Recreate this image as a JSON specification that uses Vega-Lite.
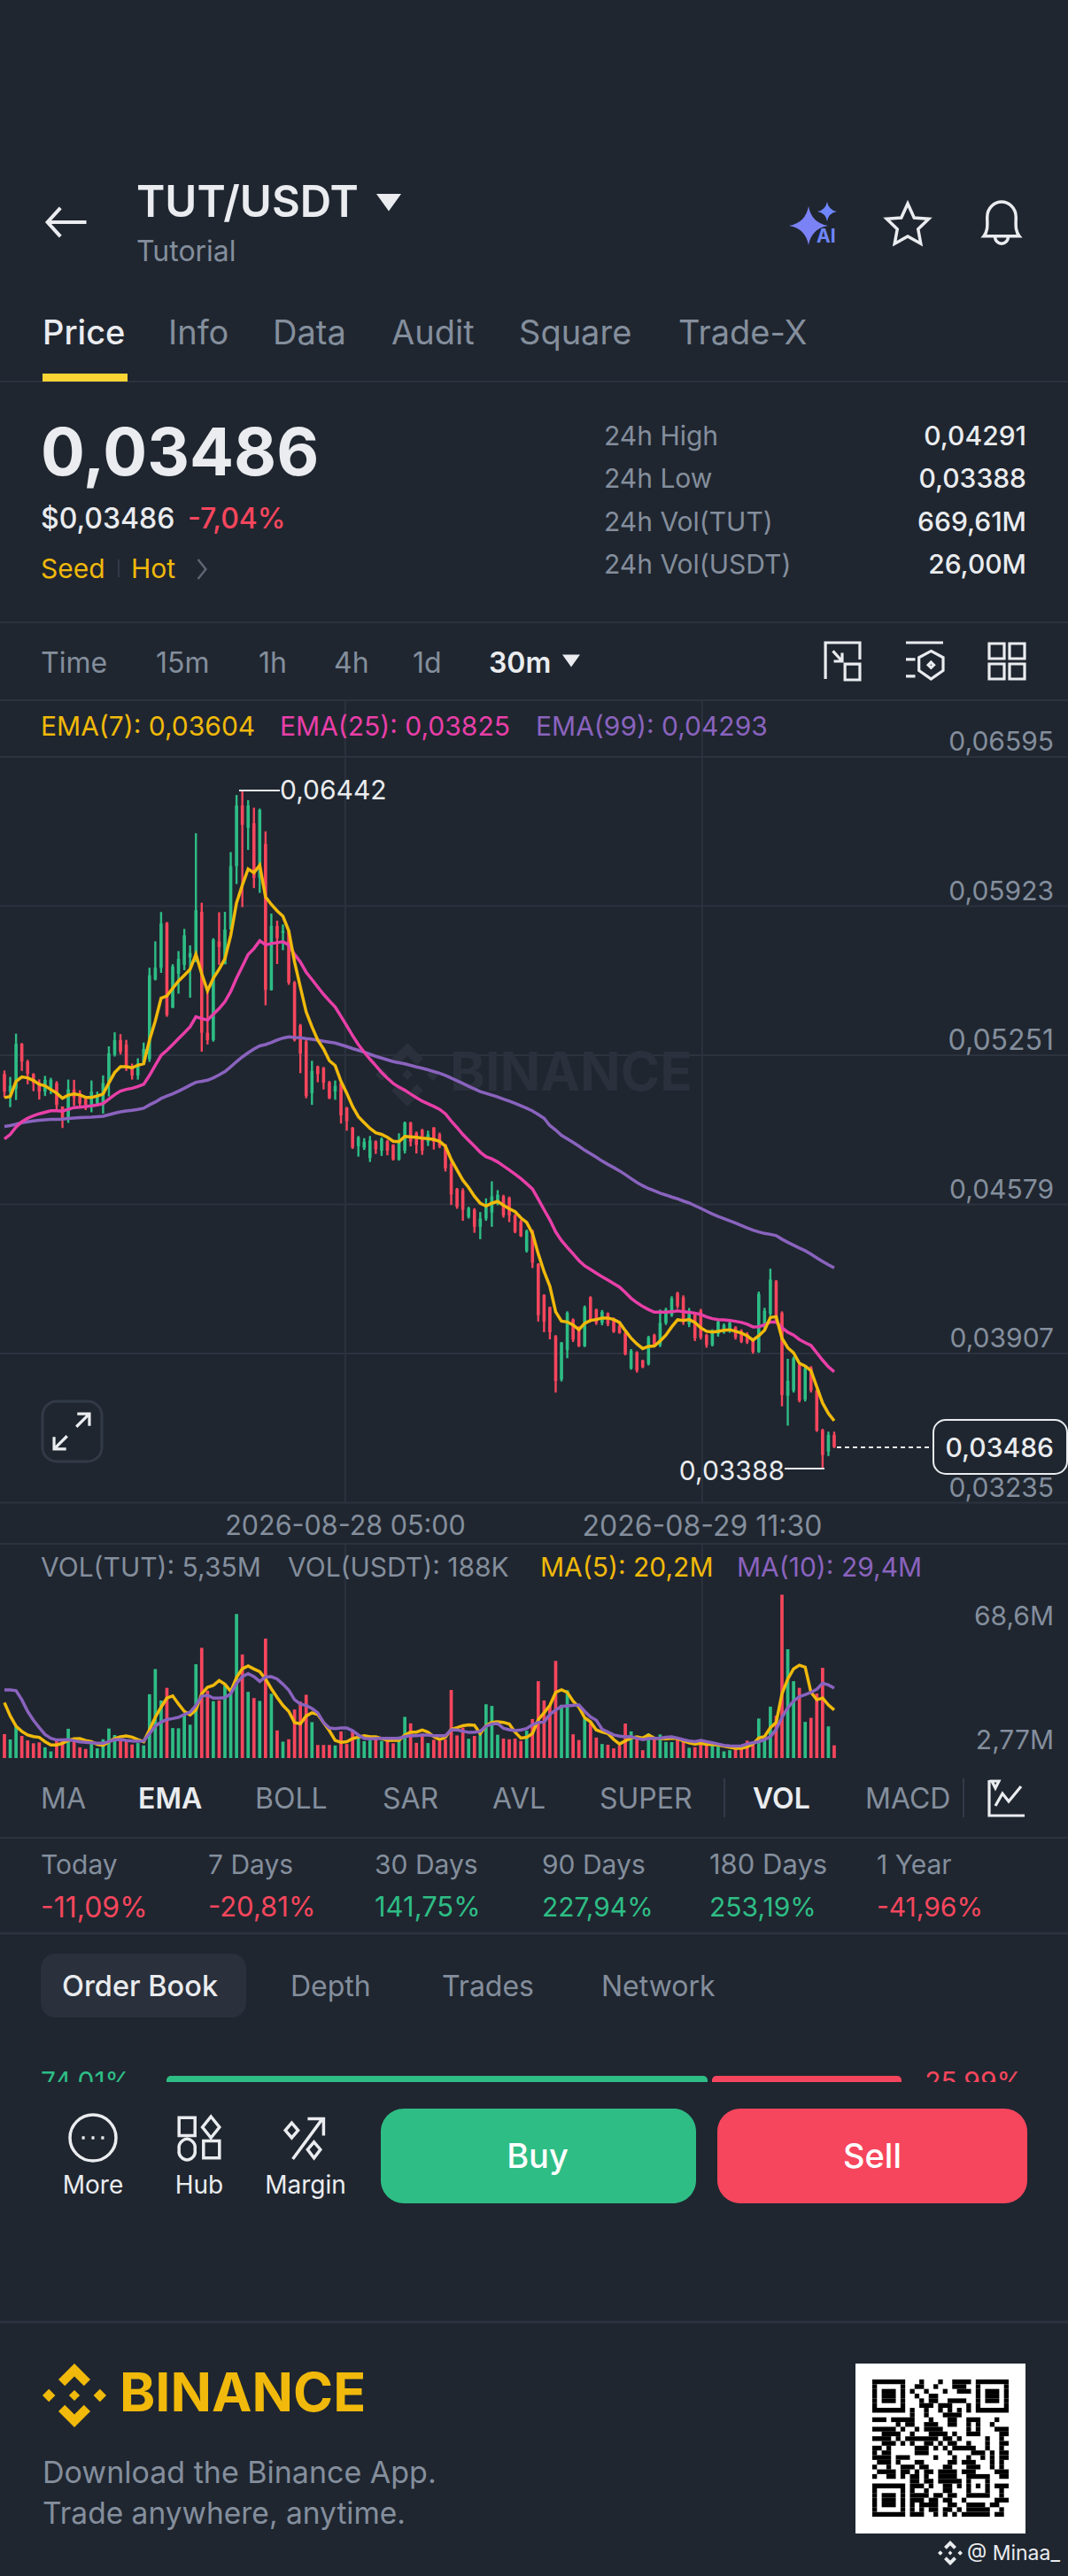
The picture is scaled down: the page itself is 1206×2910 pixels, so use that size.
{"$schema":"https://vega.github.io/schema/vega-lite/v6.json","width":1206,"height":2910,"autosize":{"type":"none"},"padding":0,"background":"#1F2630","config":{"view":{"stroke":null},"text":{"font":"Inter","align":"left","baseline":"middle","fontSize":30,"color":"#848E9C","dy":2}},
"datasets":{"k":[
{"i":0,"o":0.05166,"h":0.05182,"l":0.0506,"c":0.05087,"v":10.0,"e7":0.0506,"e25":0.04874,"e99":0.0493,"m5":23.3,"m10":28.6},
{"i":1,"o":0.05087,"h":0.05153,"l":0.05017,"c":0.05113,"v":7.8,"e7":0.05065,"e25":0.04894,"e99":0.04934,"m5":17.7,"m10":28.6},
{"i":2,"o":0.051,"h":0.05348,"l":0.05049,"c":0.05302,"v":13.4,"e7":0.05133,"e25":0.04927,"e99":0.0494,"m5":13.4,"m10":28.3},
{"i":3,"o":0.05302,"h":0.05306,"l":0.0518,"c":0.05222,"v":9.3,"e7":0.05153,"e25":0.04951,"e99":0.04947,"m5":11.2,"m10":24.5},
{"i":4,"o":0.05222,"h":0.0523,"l":0.0512,"c":0.05166,"v":7.4,"e7":0.05149,"e25":0.04967,"e99":0.04951,"m5":9.7,"m10":19.6},
{"i":5,"o":0.05166,"h":0.0517,"l":0.05089,"c":0.05126,"v":6.2,"e7":0.05137,"e25":0.04978,"e99":0.04955,"m5":9.0,"m10":15.9},
{"i":6,"o":0.05126,"h":0.05142,"l":0.05051,"c":0.05087,"v":6.6,"e7":0.0512,"e25":0.04987,"e99":0.04958,"m5":8.7,"m10":12.8},
{"i":7,"o":0.05087,"h":0.05158,"l":0.05067,"c":0.0514,"v":4.5,"e7":0.05113,"e25":0.04994,"e99":0.0496,"m5":6.9,"m10":9.9},
{"i":8,"o":0.051,"h":0.05149,"l":0.05076,"c":0.0514,"v":2.8,"e7":0.05096,"e25":0.05001,"e99":0.04962,"m5":5.5,"m10":8.3},
{"i":9,"o":0.05126,"h":0.05134,"l":0.05007,"c":0.05027,"v":7.2,"e7":0.0508,"e25":0.05001,"e99":0.04962,"m5":5.5,"m10":7.6},
{"i":10,"o":0.0502,"h":0.0502,"l":0.04923,"c":0.0496,"v":8.2,"e7":0.05057,"e25":0.04999,"e99":0.04963,"m5":6.2,"m10":7.6},
{"i":11,"o":0.0496,"h":0.05141,"l":0.04946,"c":0.05097,"v":12.3,"e7":0.05071,"e25":0.05007,"e99":0.04966,"m5":7.4,"m10":7.7},
{"i":12,"o":0.05097,"h":0.0514,"l":0.05023,"c":0.0506,"v":7.2,"e7":0.05076,"e25":0.05015,"e99":0.04968,"m5":8.1,"m10":7.3},
{"i":13,"o":0.0508,"h":0.05093,"l":0.0502,"c":0.05033,"v":4.5,"e7":0.05072,"e25":0.05017,"e99":0.0497,"m5":8.2,"m10":6.8},
{"i":14,"o":0.05053,"h":0.0506,"l":0.05004,"c":0.05027,"v":3.8,"e7":0.05061,"e25":0.0502,"e99":0.04971,"m5":7.4,"m10":6.6},
{"i":15,"o":0.05027,"h":0.05137,"l":0.04994,"c":0.05087,"v":5.9,"e7":0.05061,"e25":0.05023,"e99":0.04972,"m5":6.9,"m10":6.4},
{"i":16,"o":0.05033,"h":0.05087,"l":0.05027,"c":0.05073,"v":4.1,"e7":0.05067,"e25":0.05027,"e99":0.04974,"m5":5.7,"m10":6.2},
{"i":17,"o":0.05027,"h":0.0516,"l":0.04988,"c":0.05126,"v":7.9,"e7":0.05076,"e25":0.05033,"e99":0.04976,"m5":5.3,"m10":6.2},
{"i":18,"o":0.05126,"h":0.05291,"l":0.05065,"c":0.05259,"v":12.4,"e7":0.05126,"e25":0.05053,"e99":0.04983,"m5":6.8,"m10":6.9},
{"i":19,"o":0.05253,"h":0.05354,"l":0.05245,"c":0.05319,"v":9.7,"e7":0.05173,"e25":0.05073,"e99":0.0499,"m5":8.2,"m10":7.7},
{"i":20,"o":0.05319,"h":0.05346,"l":0.05254,"c":0.05266,"v":8.1,"e7":0.05199,"e25":0.05089,"e99":0.04996,"m5":8.9,"m10":7.8},
{"i":21,"o":0.05299,"h":0.0532,"l":0.0518,"c":0.05193,"v":7.2,"e7":0.05199,"e25":0.05097,"e99":0.05,"m5":9.3,"m10":7.4},
{"i":22,"o":0.05193,"h":0.05213,"l":0.05141,"c":0.0516,"v":5.7,"e7":0.05194,"e25":0.05102,"e99":0.05003,"m5":8.8,"m10":7.2},
{"i":23,"o":0.0516,"h":0.05237,"l":0.05141,"c":0.05213,"v":6.3,"e7":0.05206,"e25":0.0511,"e99":0.05007,"m5":7.8,"m10":7.1},
{"i":24,"o":0.05213,"h":0.05308,"l":0.0521,"c":0.05279,"v":5.3,"e7":0.05213,"e25":0.0512,"e99":0.05012,"m5":6.9,"m10":7.2},
{"i":25,"o":0.05233,"h":0.05645,"l":0.05221,"c":0.05611,"v":26.8,"e7":0.05319,"e25":0.0516,"e99":0.05027,"m5":11.9,"m10":10.3},
{"i":26,"o":0.05592,"h":0.05764,"l":0.05588,"c":0.05645,"v":37.4,"e7":0.05405,"e25":0.05206,"e99":0.0504,"m5":17.1,"m10":13.4},
{"i":27,"o":0.05645,"h":0.05896,"l":0.05622,"c":0.05844,"v":24.2,"e7":0.05508,"e25":0.0525,"e99":0.05056,"m5":21.4,"m10":15.1},
{"i":28,"o":0.05847,"h":0.05851,"l":0.05424,"c":0.05432,"v":29.5,"e7":0.05518,"e25":0.05273,"e99":0.05067,"m5":25.2,"m10":16.2},
{"i":29,"o":0.05465,"h":0.05661,"l":0.05463,"c":0.05651,"v":12.6,"e7":0.05552,"e25":0.05299,"e99":0.05077,"m5":26.1,"m10":16.6},
{"i":30,"o":0.05618,"h":0.0572,"l":0.05528,"c":0.05685,"v":12.5,"e7":0.05585,"e25":0.05326,"e99":0.05089,"m5":22.7,"m10":17.1},
{"i":31,"o":0.05658,"h":0.0582,"l":0.05634,"c":0.05791,"v":18.3,"e7":0.05611,"e25":0.05352,"e99":0.05102,"m5":19.6,"m10":18.3},
{"i":32,"o":0.05691,"h":0.05746,"l":0.0551,"c":0.05711,"v":14.0,"e7":0.05638,"e25":0.05379,"e99":0.05116,"m5":18.1,"m10":19.3},
{"i":33,"o":0.05671,"h":0.06251,"l":0.05671,"c":0.05904,"v":39.4,"e7":0.05705,"e25":0.05424,"e99":0.05129,"m5":20.2,"m10":22.1},
{"i":34,"o":0.05897,"h":0.05938,"l":0.05267,"c":0.05352,"v":46.3,"e7":0.05618,"e25":0.05416,"e99":0.05133,"m5":27.0,"m10":26.0},
{"i":35,"o":0.05352,"h":0.05552,"l":0.05299,"c":0.05319,"v":28.3,"e7":0.05541,"e25":0.05409,"e99":0.05138,"m5":29.7,"m10":26.4},
{"i":36,"o":0.05319,"h":0.05778,"l":0.05312,"c":0.05771,"v":23.9,"e7":0.05598,"e25":0.05435,"e99":0.05149,"m5":30.5,"m10":25.2},
{"i":37,"o":0.05764,"h":0.05895,"l":0.05658,"c":0.05738,"v":24.2,"e7":0.05638,"e25":0.05461,"e99":0.05162,"m5":32.6,"m10":25.2},
{"i":38,"o":0.05661,"h":0.05897,"l":0.05661,"c":0.05817,"v":30.7,"e7":0.05685,"e25":0.05492,"e99":0.05177,"m5":31.0,"m10":25.4},
{"i":39,"o":0.05817,"h":0.06166,"l":0.05817,"c":0.06103,"v":27.0,"e7":0.05791,"e25":0.05538,"e99":0.05199,"m5":28.0,"m10":27.0},
{"i":40,"o":0.06103,"h":0.06423,"l":0.06022,"c":0.06376,"v":60.5,"e7":0.05937,"e25":0.05598,"e99":0.05222,"m5":33.8,"m10":31.4},
{"i":41,"o":0.06376,"h":0.06442,"l":0.05918,"c":0.06289,"v":43.5,"e7":0.06017,"e25":0.05651,"e99":0.05243,"m5":37.5,"m10":34.2},
{"i":42,"o":0.06276,"h":0.064,"l":0.06176,"c":0.06376,"v":27.8,"e7":0.0609,"e25":0.05705,"e99":0.05262,"m5":38.7,"m10":35.4},
{"i":43,"o":0.06296,"h":0.06366,"l":0.06004,"c":0.0605,"v":25.2,"e7":0.06073,"e25":0.05731,"e99":0.05279,"m5":37.4,"m10":34.2},
{"i":44,"o":0.0605,"h":0.06362,"l":0.05982,"c":0.06356,"v":24.0,"e7":0.06107,"e25":0.05767,"e99":0.05293,"m5":36.3,"m10":32.2},
{"i":45,"o":0.06203,"h":0.06259,"l":0.05476,"c":0.05545,"v":50.2,"e7":0.05964,"e25":0.05748,"e99":0.05299,"m5":33.2,"m10":34.1},
{"i":46,"o":0.05545,"h":0.05889,"l":0.05542,"c":0.05833,"v":27.0,"e7":0.0593,"e25":0.05754,"e99":0.05308,"m5":29.1,"m10":34.2},
{"i":47,"o":0.05833,"h":0.05857,"l":0.05662,"c":0.05778,"v":11.6,"e7":0.05901,"e25":0.05758,"e99":0.05319,"m5":25.5,"m10":33.2},
{"i":48,"o":0.05802,"h":0.0584,"l":0.05724,"c":0.05811,"v":6.9,"e7":0.05877,"e25":0.05762,"e99":0.05328,"m5":22.1,"m10":31.0},
{"i":49,"o":0.05811,"h":0.05811,"l":0.05568,"c":0.05578,"v":7.9,"e7":0.05811,"e25":0.05748,"e99":0.05334,"m5":19.6,"m10":28.5},
{"i":50,"o":0.05578,"h":0.05585,"l":0.05313,"c":0.05319,"v":20.4,"e7":0.05671,"e25":0.05705,"e99":0.05331,"m5":14.9,"m10":24.5},
{"i":51,"o":0.05386,"h":0.05392,"l":0.0517,"c":0.05259,"v":23.7,"e7":0.05558,"e25":0.05671,"e99":0.0533,"m5":14.4,"m10":22.7},
{"i":52,"o":0.05313,"h":0.05319,"l":0.05057,"c":0.05067,"v":26.6,"e7":0.05446,"e25":0.05625,"e99":0.05326,"m5":17.7,"m10":22.1},
{"i":53,"o":0.0508,"h":0.05226,"l":0.05027,"c":0.0518,"v":15.1,"e7":0.05379,"e25":0.05592,"e99":0.05323,"m5":19.0,"m10":20.8},
{"i":54,"o":0.052,"h":0.05204,"l":0.05129,"c":0.05166,"v":5.5,"e7":0.05319,"e25":0.05558,"e99":0.05319,"m5":18.3,"m10":19.0},
{"i":55,"o":0.05193,"h":0.05198,"l":0.05097,"c":0.05127,"v":5.5,"e7":0.05279,"e25":0.05525,"e99":0.05314,"m5":14.9,"m10":14.9},
{"i":56,"o":0.05129,"h":0.05135,"l":0.05053,"c":0.05057,"v":5.5,"e7":0.05226,"e25":0.05496,"e99":0.0531,"m5":11.5,"m10":12.6},
{"i":57,"o":0.05087,"h":0.05137,"l":0.0505,"c":0.05113,"v":5.3,"e7":0.05204,"e25":0.05468,"e99":0.05306,"m5":7.4,"m10":12.4},
{"i":58,"o":0.05124,"h":0.05129,"l":0.04943,"c":0.0498,"v":11.2,"e7":0.05133,"e25":0.05426,"e99":0.05298,"m5":6.6,"m10":12.6},
{"i":59,"o":0.05014,"h":0.05018,"l":0.04911,"c":0.04954,"v":5.9,"e7":0.0508,"e25":0.05383,"e99":0.0529,"m5":6.9,"m10":12.6},
{"i":60,"o":0.04925,"h":0.04927,"l":0.04829,"c":0.04834,"v":11.2,"e7":0.0502,"e25":0.05339,"e99":0.05281,"m5":8.2,"m10":11.5},
{"i":61,"o":0.04841,"h":0.04887,"l":0.04794,"c":0.04881,"v":9.0,"e7":0.04974,"e25":0.05299,"e99":0.05273,"m5":8.8,"m10":9.7},
{"i":62,"o":0.04834,"h":0.04877,"l":0.04824,"c":0.04861,"v":7.1,"e7":0.04947,"e25":0.05265,"e99":0.05265,"m5":9.4,"m10":8.3},
{"i":63,"o":0.04788,"h":0.04887,"l":0.0477,"c":0.04867,"v":7.4,"e7":0.04921,"e25":0.05233,"e99":0.05255,"m5":8.9,"m10":8.1},
{"i":64,"o":0.04863,"h":0.04867,"l":0.04806,"c":0.04827,"v":7.8,"e7":0.04901,"e25":0.05204,"e99":0.05246,"m5":8.9,"m10":8.2},
{"i":65,"o":0.04821,"h":0.04881,"l":0.04797,"c":0.04874,"v":7.2,"e7":0.04894,"e25":0.05173,"e99":0.05238,"m5":8.2,"m10":8.3},
{"i":66,"o":0.04863,"h":0.04869,"l":0.048,"c":0.04821,"v":7.8,"e7":0.04881,"e25":0.05147,"e99":0.0523,"m5":7.4,"m10":8.3},
{"i":67,"o":0.04847,"h":0.0485,"l":0.04776,"c":0.04781,"v":6.2,"e7":0.04863,"e25":0.05124,"e99":0.05222,"m5":7.4,"m10":8.3},
{"i":68,"o":0.04781,"h":0.04899,"l":0.04776,"c":0.04861,"v":9.0,"e7":0.04861,"e25":0.05107,"e99":0.05217,"m5":7.4,"m10":8.3},
{"i":69,"o":0.04821,"h":0.04952,"l":0.04808,"c":0.04947,"v":17.3,"e7":0.04885,"e25":0.05093,"e99":0.05212,"m5":9.7,"m10":9.0},
{"i":70,"o":0.04947,"h":0.04951,"l":0.0484,"c":0.04861,"v":14.6,"e7":0.04883,"e25":0.05076,"e99":0.05205,"m5":10.9,"m10":9.4},
{"i":71,"o":0.04901,"h":0.04907,"l":0.04808,"c":0.04847,"v":6.4,"e7":0.04881,"e25":0.0506,"e99":0.05198,"m5":10.9,"m10":9.4},
{"i":72,"o":0.04914,"h":0.04919,"l":0.04802,"c":0.04821,"v":10.3,"e7":0.04877,"e25":0.05044,"e99":0.05192,"m5":11.8,"m10":9.7},
{"i":73,"o":0.04861,"h":0.04911,"l":0.04842,"c":0.04894,"v":6.3,"e7":0.04875,"e25":0.05032,"e99":0.05185,"m5":10.9,"m10":9.7},
{"i":74,"o":0.04925,"h":0.04927,"l":0.04826,"c":0.04861,"v":7.7,"e7":0.04871,"e25":0.0502,"e99":0.05177,"m5":9.0,"m10":9.4},
{"i":75,"o":0.04894,"h":0.04902,"l":0.04832,"c":0.04841,"v":7.2,"e7":0.04863,"e25":0.05007,"e99":0.0517,"m5":7.8,"m10":9.4},
{"i":76,"o":0.04847,"h":0.04851,"l":0.04727,"c":0.04741,"v":7.8,"e7":0.04841,"e25":0.04987,"e99":0.0516,"m5":8.7,"m10":9.4},
{"i":77,"o":0.04761,"h":0.04774,"l":0.04576,"c":0.04624,"v":28.6,"e7":0.04781,"e25":0.04954,"e99":0.05148,"m5":12.1,"m10":11.9},
{"i":78,"o":0.04648,"h":0.04653,"l":0.04559,"c":0.04568,"v":9.5,"e7":0.04734,"e25":0.04925,"e99":0.05136,"m5":12.8,"m10":11.8},
{"i":79,"o":0.04641,"h":0.04651,"l":0.04505,"c":0.04555,"v":12.8,"e7":0.04688,"e25":0.04894,"e99":0.05124,"m5":13.6,"m10":11.3},
{"i":80,"o":0.04522,"h":0.04568,"l":0.04515,"c":0.04562,"v":8.1,"e7":0.04655,"e25":0.04867,"e99":0.05111,"m5":13.9,"m10":10.8},
{"i":81,"o":0.04555,"h":0.04562,"l":0.04451,"c":0.04478,"v":9.3,"e7":0.04615,"e25":0.04841,"e99":0.05099,"m5":13.8,"m10":10.9},
{"i":82,"o":0.04478,"h":0.04544,"l":0.04422,"c":0.04515,"v":10.9,"e7":0.04584,"e25":0.04814,"e99":0.05087,"m5":10.3,"m10":11.2},
{"i":83,"o":0.04515,"h":0.04606,"l":0.04505,"c":0.04568,"v":22.6,"e7":0.04572,"e25":0.04794,"e99":0.05079,"m5":13.6,"m10":13.4},
{"i":84,"o":0.04542,"h":0.04683,"l":0.04478,"c":0.04615,"v":21.9,"e7":0.04584,"e25":0.04784,"e99":0.05071,"m5":15.0,"m10":14.3},
{"i":85,"o":0.04582,"h":0.04643,"l":0.04575,"c":0.04622,"v":9.8,"e7":0.04592,"e25":0.0477,"e99":0.05063,"m5":15.2,"m10":14.5},
{"i":86,"o":0.04615,"h":0.04622,"l":0.04519,"c":0.04529,"v":8.2,"e7":0.04575,"e25":0.04752,"e99":0.05053,"m5":15.0,"m10":12.5},
{"i":87,"o":0.04608,"h":0.04614,"l":0.04499,"c":0.04529,"v":7.9,"e7":0.04559,"e25":0.04734,"e99":0.05044,"m5":14.3,"m10":11.9},
{"i":88,"o":0.04529,"h":0.04535,"l":0.04449,"c":0.04455,"v":8.2,"e7":0.04546,"e25":0.04715,"e99":0.05034,"m5":10.9,"m10":11.5},
{"i":89,"o":0.04502,"h":0.04509,"l":0.04432,"c":0.04436,"v":7.2,"e7":0.04518,"e25":0.04695,"e99":0.05023,"m5":8.4,"m10":11.8},
{"i":90,"o":0.04369,"h":0.04465,"l":0.04362,"c":0.04459,"v":11.5,"e7":0.04498,"e25":0.04672,"e99":0.05012,"m5":8.7,"m10":12.4},
{"i":91,"o":0.04459,"h":0.04465,"l":0.04292,"c":0.04316,"v":16.4,"e7":0.04449,"e25":0.04648,"e99":0.05,"m5":10.3,"m10":14.0},
{"i":92,"o":0.0431,"h":0.04314,"l":0.04051,"c":0.0408,"v":32.3,"e7":0.04356,"e25":0.04602,"e99":0.04984,"m5":16.1,"m10":15.0},
{"i":93,"o":0.0417,"h":0.04174,"l":0.04003,"c":0.04051,"v":24.2,"e7":0.04276,"e25":0.04555,"e99":0.04967,"m5":19.0,"m10":15.1},
{"i":94,"o":0.04116,"h":0.04118,"l":0.03971,"c":0.04003,"v":22.1,"e7":0.0421,"e25":0.04509,"e99":0.04934,"m5":22.1,"m10":18.3},
{"i":95,"o":0.03985,"h":0.0399,"l":0.03731,"c":0.03783,"v":40.8,"e7":0.04095,"e25":0.04455,"e99":0.04914,"m5":27.6,"m10":20.2},
{"i":96,"o":0.0379,"h":0.03959,"l":0.03781,"c":0.03956,"v":22.4,"e7":0.04053,"e25":0.04416,"e99":0.0489,"m5":28.7,"m10":21.7},
{"i":97,"o":0.03923,"h":0.04097,"l":0.03886,"c":0.0409,"v":28.5,"e7":0.04049,"e25":0.04385,"e99":0.04874,"m5":27.6,"m10":21.9},
{"i":98,"o":0.0406,"h":0.04065,"l":0.03959,"c":0.0397,"v":10.0,"e7":0.04036,"e25":0.04356,"e99":0.04858,"m5":23.9,"m10":22.1},
{"i":99,"o":0.04025,"h":0.0403,"l":0.03936,"c":0.0394,"v":7.6,"e7":0.04014,"e25":0.04326,"e99":0.04841,"m5":21.4,"m10":22.3},
{"i":100,"o":0.0394,"h":0.04123,"l":0.03936,"c":0.04115,"v":16.5,"e7":0.04043,"e25":0.04302,"e99":0.04823,"m5":16.9,"m10":19.6},
{"i":101,"o":0.0416,"h":0.04165,"l":0.04049,"c":0.0406,"v":14.6,"e7":0.04056,"e25":0.04286,"e99":0.04807,"m5":15.2,"m10":17.3},
{"i":102,"o":0.04105,"h":0.04109,"l":0.04036,"c":0.04045,"v":8.6,"e7":0.0406,"e25":0.04269,"e99":0.04791,"m5":11.8,"m10":15.9},
{"i":103,"o":0.04045,"h":0.04103,"l":0.04034,"c":0.04095,"v":5.9,"e7":0.04067,"e25":0.04253,"e99":0.04774,"m5":10.9,"m10":12.1},
{"i":104,"o":0.04088,"h":0.04092,"l":0.0403,"c":0.0404,"v":5.6,"e7":0.04067,"e25":0.04238,"e99":0.04759,"m5":10.3,"m10":10.9},
{"i":105,"o":0.0406,"h":0.04069,"l":0.04,"c":0.04005,"v":4.1,"e7":0.0406,"e25":0.04222,"e99":0.04745,"m5":7.8,"m10":9.7},
{"i":106,"o":0.0403,"h":0.04049,"l":0.03996,"c":0.04,"v":5.3,"e7":0.04047,"e25":0.04206,"e99":0.0473,"m5":5.9,"m10":9.2},
{"i":107,"o":0.04,"h":0.04003,"l":0.03899,"c":0.03905,"v":14.5,"e7":0.0401,"e25":0.04182,"e99":0.04713,"m5":7.2,"m10":8.9},
{"i":108,"o":0.0384,"h":0.03927,"l":0.03834,"c":0.0392,"v":11.2,"e7":0.03976,"e25":0.04156,"e99":0.04695,"m5":8.4,"m10":9.0},
{"i":109,"o":0.03912,"h":0.03917,"l":0.03821,"c":0.0383,"v":8.7,"e7":0.0395,"e25":0.04136,"e99":0.04678,"m5":8.9,"m10":8.3},
{"i":110,"o":0.03875,"h":0.03879,"l":0.03841,"c":0.03845,"v":3.3,"e7":0.03929,"e25":0.04119,"e99":0.04663,"m5":8.4,"m10":7.7},
{"i":111,"o":0.0386,"h":0.03987,"l":0.03853,"c":0.0398,"v":10.3,"e7":0.03939,"e25":0.04105,"e99":0.0465,"m5":9.7,"m10":8.2},
{"i":112,"o":0.0399,"h":0.03996,"l":0.03936,"c":0.03945,"v":7.8,"e7":0.03941,"e25":0.04093,"e99":0.0464,"m5":8.4,"m10":8.3},
{"i":113,"o":0.03945,"h":0.04105,"l":0.03936,"c":0.04045,"v":9.9,"e7":0.03963,"e25":0.04093,"e99":0.04629,"m5":8.3,"m10":8.4},
{"i":114,"o":0.04045,"h":0.04113,"l":0.04036,"c":0.04105,"v":6.8,"e7":0.0399,"e25":0.04093,"e99":0.04621,"m5":8.1,"m10":8.7},
{"i":115,"o":0.0408,"h":0.04165,"l":0.04072,"c":0.04155,"v":6.7,"e7":0.04027,"e25":0.04095,"e99":0.04612,"m5":8.4,"m10":8.9},
{"i":116,"o":0.0418,"h":0.04185,"l":0.04109,"c":0.0412,"v":7.8,"e7":0.04059,"e25":0.04099,"e99":0.04604,"m5":8.1,"m10":8.4},
{"i":117,"o":0.0416,"h":0.04169,"l":0.04036,"c":0.0405,"v":6.9,"e7":0.04056,"e25":0.04095,"e99":0.04594,"m5":7.2,"m10":7.7},
{"i":118,"o":0.0404,"h":0.04112,"l":0.04026,"c":0.041,"v":4.3,"e7":0.0406,"e25":0.04092,"e99":0.04585,"m5":6.4,"m10":7.2},
{"i":119,"o":0.04085,"h":0.04089,"l":0.03963,"c":0.03975,"v":4.6,"e7":0.04047,"e25":0.04089,"e99":0.04573,"m5":5.9,"m10":6.9},
{"i":120,"o":0.041,"h":0.04108,"l":0.0397,"c":0.0398,"v":7.2,"e7":0.04023,"e25":0.04083,"e99":0.04561,"m5":6.2,"m10":7.4},
{"i":121,"o":0.0399,"h":0.03996,"l":0.03933,"c":0.03945,"v":5.7,"e7":0.04007,"e25":0.04072,"e99":0.04548,"m5":5.8,"m10":6.9},
{"i":122,"o":0.03945,"h":0.04016,"l":0.03939,"c":0.0401,"v":5.6,"e7":0.04004,"e25":0.04064,"e99":0.04536,"m5":5.7,"m10":6.4},
{"i":123,"o":0.03995,"h":0.04063,"l":0.03983,"c":0.0405,"v":4.8,"e7":0.04007,"e25":0.0406,"e99":0.04525,"m5":5.5,"m10":5.9},
{"i":124,"o":0.04005,"h":0.04043,"l":0.03996,"c":0.04035,"v":2.8,"e7":0.04012,"e25":0.04059,"e99":0.04515,"m5":5.0,"m10":5.3},
{"i":125,"o":0.0401,"h":0.04056,"l":0.04,"c":0.04045,"v":3.3,"e7":0.04014,"e25":0.04056,"e99":0.04505,"m5":4.5,"m10":5.1},
{"i":126,"o":0.04025,"h":0.0403,"l":0.0397,"c":0.0398,"v":4.1,"e7":0.04007,"e25":0.04052,"e99":0.04495,"m5":4.1,"m10":5.0},
{"i":127,"o":0.0401,"h":0.04016,"l":0.03954,"c":0.0396,"v":5.3,"e7":0.03999,"e25":0.04047,"e99":0.04484,"m5":4.1,"m10":5.1},
{"i":128,"o":0.03995,"h":0.04003,"l":0.0395,"c":0.03958,"v":7.3,"e7":0.03987,"e25":0.04039,"e99":0.04473,"m5":4.7,"m10":5.9},
{"i":129,"o":0.0397,"h":0.03976,"l":0.03906,"c":0.03915,"v":6.6,"e7":0.03967,"e25":0.04027,"e99":0.04463,"m5":5.9,"m10":6.4},
{"i":130,"o":0.03915,"h":0.04186,"l":0.0391,"c":0.04175,"v":16.6,"e7":0.03987,"e25":0.04028,"e99":0.04455,"m5":8.4,"m10":6.9},
{"i":131,"o":0.04025,"h":0.04113,"l":0.04016,"c":0.041,"v":8.1,"e7":0.04012,"e25":0.04036,"e99":0.04448,"m5":9.0,"m10":7.8},
{"i":132,"o":0.04085,"h":0.04289,"l":0.04076,"c":0.0424,"v":21.6,"e7":0.04069,"e25":0.04049,"e99":0.04444,"m5":12.8,"m10":9.0},
{"i":133,"o":0.04232,"h":0.04238,"l":0.04049,"c":0.04055,"v":17.8,"e7":0.04073,"e25":0.04049,"e99":0.04438,"m5":14.9,"m10":12.1},
{"i":134,"o":0.0409,"h":0.04097,"l":0.03669,"c":0.0372,"v":68.6,"e7":0.03976,"e25":0.04023,"e99":0.04422,"m5":27.0,"m10":17.1},
{"i":135,"o":0.03717,"h":0.03883,"l":0.03582,"c":0.03784,"v":45.7,"e7":0.03933,"e25":0.04003,"e99":0.04408,"m5":33.2,"m10":21.1},
{"i":136,"o":0.0374,"h":0.03893,"l":0.03731,"c":0.03885,"v":32.3,"e7":0.0391,"e25":0.0399,"e99":0.04395,"m5":37.5,"m10":23.9},
{"i":137,"o":0.03855,"h":0.03863,"l":0.03687,"c":0.03695,"v":29.5,"e7":0.03863,"e25":0.0397,"e99":0.04382,"m5":39.0,"m10":25.8},
{"i":138,"o":0.037,"h":0.0385,"l":0.03691,"c":0.0384,"v":15.2,"e7":0.0385,"e25":0.03956,"e99":0.0437,"m5":38.2,"m10":26.6},
{"i":139,"o":0.03845,"h":0.0385,"l":0.03731,"c":0.0374,"v":16.9,"e7":0.0383,"e25":0.03943,"e99":0.04355,"m5":27.6,"m10":27.6},
{"i":140,"o":0.0374,"h":0.03744,"l":0.03554,"c":0.0356,"v":27.1,"e7":0.03757,"e25":0.0391,"e99":0.04338,"m5":24.5,"m10":28.9},
{"i":141,"o":0.03562,"h":0.03568,"l":0.03388,"c":0.0345,"v":37.9,"e7":0.03684,"e25":0.03877,"e99":0.04322,"m5":25.2,"m10":31.4},
{"i":142,"o":0.03465,"h":0.03555,"l":0.03445,"c":0.0354,"v":13.3,"e7":0.03637,"e25":0.03847,"e99":0.04307,"m5":22.3,"m10":30.7},
{"i":143,"o":0.0354,"h":0.03555,"l":0.03481,"c":0.03486,"v":5.35,"e7":0.03604,"e25":0.03825,"e99":0.04293,"m5":20.2,"m10":29.4}
],
"qr":[{"r":0,"c":0,"d":7},{"r":0,"c":10,"d":11},{"r":0,"c":14,"d":15},{"r":0,"c":17,"d":21},{"r":0,"c":22,"d":29},
{"r":1,"c":0,"d":1},{"r":1,"c":6,"d":7},{"r":1,"c":9,"d":11},{"r":1,"c":13,"d":14},{"r":1,"c":17,"d":20},{"r":1,"c":22,"d":23},{"r":1,"c":28,"d":29},
{"r":2,"c":0,"d":1},{"r":2,"c":2,"d":5},{"r":2,"c":6,"d":7},{"r":2,"c":8,"d":9},{"r":2,"c":11,"d":12},{"r":2,"c":15,"d":16},{"r":2,"c":18,"d":21},{"r":2,"c":22,"d":23},{"r":2,"c":24,"d":27},{"r":2,"c":28,"d":29},
{"r":3,"c":0,"d":1},{"r":3,"c":2,"d":5},{"r":3,"c":6,"d":7},{"r":3,"c":9,"d":10},{"r":3,"c":12,"d":14},{"r":3,"c":22,"d":23},{"r":3,"c":24,"d":27},{"r":3,"c":28,"d":29},
{"r":4,"c":0,"d":1},{"r":4,"c":2,"d":5},{"r":4,"c":6,"d":7},{"r":4,"c":10,"d":11},{"r":4,"c":12,"d":14},{"r":4,"c":16,"d":20},{"r":4,"c":22,"d":23},{"r":4,"c":24,"d":27},{"r":4,"c":28,"d":29},
{"r":5,"c":0,"d":1},{"r":5,"c":6,"d":7},{"r":5,"c":10,"d":13},{"r":5,"c":14,"d":17},{"r":5,"c":20,"d":21},{"r":5,"c":22,"d":23},{"r":5,"c":28,"d":29},
{"r":6,"c":0,"d":7},{"r":6,"c":8,"d":9},{"r":6,"c":11,"d":12},{"r":6,"c":14,"d":15},{"r":6,"c":16,"d":17},{"r":6,"c":18,"d":19},{"r":6,"c":20,"d":21},{"r":6,"c":22,"d":29},
{"r":7,"c":8,"d":9},{"r":7,"c":11,"d":12},{"r":7,"c":15,"d":19},
{"r":8,"c":0,"d":3},{"r":8,"c":4,"d":9},{"r":8,"c":12,"d":13},{"r":8,"c":16,"d":18},{"r":8,"c":20,"d":23},{"r":8,"c":26,"d":27},
{"r":9,"c":5,"d":6},{"r":9,"c":7,"d":9},{"r":9,"c":11,"d":14},{"r":9,"c":16,"d":18},{"r":9,"c":20,"d":21},{"r":9,"c":22,"d":23},{"r":9,"c":25,"d":26},
{"r":10,"c":0,"d":5},{"r":10,"c":6,"d":7},{"r":10,"c":9,"d":10},{"r":10,"c":11,"d":15},{"r":10,"c":20,"d":21},{"r":10,"c":22,"d":23},{"r":10,"c":26,"d":29},
{"r":11,"c":2,"d":6},{"r":11,"c":8,"d":9},{"r":11,"c":12,"d":16},{"r":11,"c":17,"d":18},{"r":11,"c":20,"d":23},{"r":11,"c":27,"d":29},
{"r":12,"c":0,"d":4},{"r":12,"c":5,"d":6},{"r":12,"c":7,"d":14},{"r":12,"c":15,"d":17},{"r":12,"c":18,"d":19},{"r":12,"c":24,"d":25},{"r":12,"c":27,"d":28},
{"r":13,"c":2,"d":5},{"r":13,"c":6,"d":7},{"r":13,"c":8,"d":9},{"r":13,"c":11,"d":13},{"r":13,"c":14,"d":15},{"r":13,"c":16,"d":18},{"r":13,"c":20,"d":21},{"r":13,"c":24,"d":25},{"r":13,"c":27,"d":29},
{"r":14,"c":0,"d":2},{"r":14,"c":3,"d":4},{"r":14,"c":9,"d":12},{"r":14,"c":13,"d":14},{"r":14,"c":15,"d":16},{"r":14,"c":17,"d":22},{"r":14,"c":24,"d":25},{"r":14,"c":27,"d":28},
{"r":15,"c":0,"d":1},{"r":15,"c":2,"d":4},{"r":15,"c":9,"d":12},{"r":15,"c":16,"d":17},{"r":15,"c":21,"d":24},{"r":15,"c":25,"d":26},{"r":15,"c":27,"d":29},
{"r":16,"c":0,"d":4},{"r":16,"c":5,"d":8},{"r":16,"c":13,"d":14},{"r":16,"c":17,"d":18},{"r":16,"c":20,"d":21},{"r":16,"c":23,"d":24},{"r":16,"c":25,"d":26},{"r":16,"c":27,"d":29},
{"r":17,"c":1,"d":4},{"r":17,"c":5,"d":6},{"r":17,"c":9,"d":11},{"r":17,"c":16,"d":18},{"r":17,"c":19,"d":22},{"r":17,"c":25,"d":26},{"r":17,"c":27,"d":28},
{"r":18,"c":0,"d":1},{"r":18,"c":3,"d":4},{"r":18,"c":6,"d":9},{"r":18,"c":10,"d":12},{"r":18,"c":15,"d":17},{"r":18,"c":20,"d":23},{"r":18,"c":25,"d":26},{"r":18,"c":27,"d":28},
{"r":19,"c":1,"d":5},{"r":19,"c":6,"d":8},{"r":19,"c":9,"d":10},{"r":19,"c":11,"d":13},{"r":19,"c":14,"d":18},{"r":19,"c":19,"d":22},{"r":19,"c":26,"d":29},
{"r":20,"c":0,"d":1},{"r":20,"c":3,"d":5},{"r":20,"c":6,"d":7},{"r":20,"c":8,"d":10},{"r":20,"c":11,"d":12},{"r":20,"c":14,"d":18},{"r":20,"c":20,"d":25},{"r":20,"c":27,"d":29},
{"r":21,"c":8,"d":10},{"r":21,"c":11,"d":13},{"r":21,"c":14,"d":19},{"r":21,"c":20,"d":21},{"r":21,"c":24,"d":25},
{"r":22,"c":0,"d":7},{"r":22,"c":8,"d":11},{"r":22,"c":12,"d":13},{"r":22,"c":15,"d":17},{"r":22,"c":18,"d":19},{"r":22,"c":20,"d":21},{"r":22,"c":22,"d":23},{"r":22,"c":24,"d":25},{"r":22,"c":26,"d":29},
{"r":23,"c":0,"d":1},{"r":23,"c":6,"d":7},{"r":23,"c":8,"d":9},{"r":23,"c":11,"d":12},{"r":23,"c":15,"d":17},{"r":23,"c":20,"d":21},{"r":23,"c":24,"d":25},{"r":23,"c":27,"d":28},
{"r":24,"c":0,"d":1},{"r":24,"c":2,"d":5},{"r":24,"c":6,"d":7},{"r":24,"c":8,"d":12},{"r":24,"c":13,"d":15},{"r":24,"c":16,"d":18},{"r":24,"c":20,"d":25},{"r":24,"c":27,"d":28},
{"r":25,"c":0,"d":1},{"r":25,"c":2,"d":5},{"r":25,"c":6,"d":7},{"r":25,"c":8,"d":11},{"r":25,"c":12,"d":14},{"r":25,"c":15,"d":17},{"r":25,"c":19,"d":20},{"r":25,"c":26,"d":29},
{"r":26,"c":0,"d":1},{"r":26,"c":2,"d":5},{"r":26,"c":6,"d":7},{"r":26,"c":8,"d":9},{"r":26,"c":10,"d":14},{"r":26,"c":16,"d":18},{"r":26,"c":20,"d":24},{"r":26,"c":25,"d":27},
{"r":27,"c":0,"d":1},{"r":27,"c":6,"d":7},{"r":27,"c":8,"d":9},{"r":27,"c":10,"d":11},{"r":27,"c":12,"d":14},{"r":27,"c":15,"d":17},{"r":27,"c":18,"d":19},{"r":27,"c":20,"d":25},{"r":27,"c":27,"d":28},
{"r":28,"c":0,"d":7},{"r":28,"c":8,"d":11},{"r":28,"c":13,"d":14},{"r":28,"c":15,"d":16},{"r":28,"c":17,"d":18},{"r":28,"c":19,"d":25},{"r":28,"c":26,"d":28}
],
"one":[{"a":1}]},
"layer":[
{"data":{"values":[{"p":0.06595},{"p":0.05923},{"p":0.05251},{"p":0.04579},{"p":0.03907},{"p":0.03235}]},"mark":{"type":"rule","color":"#2C323E","strokeWidth":2},"encoding":{"y":{"field":"p","type":"quantitative","scale":{"domain":[0.03235,0.06595],"range":[1697.5,855],"zero":false,"nice":false},"axis":null}}},
{"data":{"values":[{"i":59},{"i":120}]},"mark":{"type":"rule","color":"#2C323E","strokeWidth":2},"encoding":{"x":{"field":"i","type":"quantitative","scale":{"domain":[0,182.53],"range":[0,1206],"nice":false,"zero":false},"axis":null},"y":{"value":791},"y2":{"value":1697}}},
{"data":{"values":[{"i":59},{"i":120}]},"mark":{"type":"rule","color":"#2C323E","strokeWidth":2},"encoding":{"x":{"field":"i","type":"quantitative","scale":{"domain":[0,182.53],"range":[0,1206],"nice":false,"zero":false},"axis":null},"y":{"value":1744},"y2":{"value":1986}}},
{"data":{"name":"one"},"mark":{"type":"point","shape":"M0 -0.17L0.17 0L0 0.17L-0.17 0ZM-0.8 -0.2L-0.6 0L-0.8 0.2L-1 0ZM0.8 -0.2L1 0L0.8 0.2L0.6 0ZM0 -1L0.5 -0.5L0.3 -0.3L0 -0.6L-0.3 -0.3L-0.5 -0.5ZM0 1L-0.5 0.5L-0.3 0.3L0 0.6L0.3 0.3L0.5 0.5Z","filled":true,"color":"#2A303C","opacity":1,"size":5184,"x":460,"y":1214},"encoding":{}},
{"data":{"name":"one"},"mark":{"type":"text","text":"BINANCE","x":508,"y":1212,"fontSize":60,"fontWeight":700,"color":"#2A303C"},"encoding":{}},

{"data":{"name":"k"},"encoding":{"x":{"field":"i","type":"quantitative","scale":{"domain":[0,182.53],"range":[0,1206],"nice":false,"zero":false},"axis":null}},"layer":[
{"mark":{"type":"rule","strokeWidth":2.4},"encoding":{"y":{"field":"h","type":"quantitative","scale":{"domain":[0.03235,0.06595],"range":[1697.5,855],"zero":false,"nice":false},"axis":null},"y2":{"field":"l"},"color":{"condition":{"test":"datum.c>=datum.o","value":"#2EBD85"},"value":"#F6465D"}}},
{"mark":{"type":"bar","size":3.6},"encoding":{"y":{"field":"o","type":"quantitative","scale":{"domain":[0.03235,0.06595],"range":[1697.5,855],"zero":false,"nice":false},"axis":null},"y2":{"field":"c"},"color":{"condition":{"test":"datum.c>=datum.o","value":"#2EBD85"},"value":"#F6465D"}}},
{"mark":{"type":"line","color":"#8A63BE","strokeWidth":3.5},"encoding":{"y":{"field":"e99","type":"quantitative","scale":{"domain":[0.03235,0.06595],"range":[1697.5,855],"zero":false,"nice":false},"axis":null}}},
{"mark":{"type":"line","color":"#E83FA8","strokeWidth":3.5},"encoding":{"y":{"field":"e25","type":"quantitative","scale":{"domain":[0.03235,0.06595],"range":[1697.5,855],"zero":false,"nice":false},"axis":null}}},
{"mark":{"type":"line","color":"#F0B90B","strokeWidth":3.5},"encoding":{"y":{"field":"e7","type":"quantitative","scale":{"domain":[0.03235,0.06595],"range":[1697.5,855],"zero":false,"nice":false},"axis":null}}}
]},
{"data":{"name":"k"},"encoding":{"x":{"field":"i","type":"quantitative","scale":{"domain":[0,182.53],"range":[0,1206],"nice":false,"zero":false},"axis":null}},"layer":[
{"mark":{"type":"bar","size":3.7},"encoding":{"y":{"field":"v","type":"quantitative","stack":null,"scale":{"domain":[0,68.6],"range":[1986,1801.5],"nice":false},"axis":null},"color":{"condition":{"test":"datum.c>=datum.o","value":"#2EBD85"},"value":"#F6465D"}}},
{"mark":{"type":"line","color":"#F0B90B","strokeWidth":3.5},"encoding":{"y":{"field":"m5","type":"quantitative","scale":{"domain":[0,68.6],"range":[1986,1801.5],"nice":false},"axis":null}}},
{"mark":{"type":"line","color":"#8A63BE","strokeWidth":3.5},"encoding":{"y":{"field":"m10","type":"quantitative","scale":{"domain":[0,68.6],"range":[1986,1801.5],"nice":false},"axis":null}}}
]},
{"data":{"values":[{"p":0.06595,"t":"0,06595"},{"p":0.05923,"t":"0,05923"},{"p":0.04579,"t":"0,04579"},{"p":0.03907,"t":"0,03907"},{"p":0.03235,"t":"0,03235"}]},"mark":{"type":"text","align":"right","x":1190,"dy":-16},"encoding":{"y":{"field":"p","type":"quantitative","scale":{"domain":[0.03235,0.06595],"range":[1697.5,855],"zero":false,"nice":false},"axis":null},"text":{"field":"t"}}},
{"data":{"values":[{"p":0.05251,"t":"0,05251"}]},"mark":{"type":"text","align":"right","x":1190,"dy":-16,"fontSize":32},"encoding":{"y":{"field":"p","type":"quantitative","scale":{"domain":[0.03235,0.06595],"range":[1697.5,855],"zero":false,"nice":false},"axis":null},"text":{"field":"t"}}},

{"data":{"name":"one"},"mark":{"type":"rule","color":"#EAECEF","strokeWidth":2},"encoding":{"x":{"value":270},"x2":{"value":316},"y":{"value":893}}},
{"data":{"name":"one"},"mark":{"type":"text","text":"0,06442","x":316,"y":892,"color":"#EAECEF"},"encoding":{}},
{"data":{"name":"one"},"mark":{"type":"rule","color":"#EAECEF","strokeWidth":2},"encoding":{"x":{"value":886},"x2":{"value":931},"y":{"value":1659}}},
{"data":{"name":"one"},"mark":{"type":"text","text":"0,03388","x":886,"y":1661,"align":"right","color":"#EAECEF"},"encoding":{}},
{"data":{"name":"one"},"mark":{"type":"rule","color":"#EAECEF","strokeWidth":2,"strokeDash":[5,4]},"encoding":{"x":{"value":945},"x2":{"value":1054},"y":{"value":1635}}},
{"data":{"name":"one"},"mark":{"type":"rect","x":1054,"x2":1205,"y":1604,"y2":1665,"fill":"#1F2630","stroke":"#EAECEF","strokeWidth":2,"cornerRadius":14},"encoding":{}},
{"data":{"name":"one"},"mark":{"type":"text","text":"0,03486","x":1190,"y":1635,"align":"right","color":"#EAECEF","fontWeight":500},"encoding":{}},
{"data":{"name":"one"},"mark":{"type":"rect","x":48,"x2":115,"y":1583,"y2":1651,"fill":"#1F2630","stroke":"#333A47","strokeWidth":3,"cornerRadius":16},"encoding":{}},
{"data":{"name":"one"},"mark":{"type":"point","shape":"M0.25 -0.25L0.95 -0.95M0.3 -0.95L0.95 -0.95L0.95 -0.3M-0.25 0.25L-0.95 0.95M-0.95 0.3L-0.95 0.95L-0.3 0.95","filled":false,"color":"#EAECEF","opacity":1,"strokeWidth":3.2,"size":1764,"x":81,"y":1617},"encoding":{}},

{"data":{"name":"one"},"mark":{"type":"rule","color":"#2C323E","strokeWidth":2},"encoding":{"x":{"value":0},"x2":{"value":1206},"y":{"value":431}}},
{"data":{"name":"one"},"mark":{"type":"rule","color":"#2C323E","strokeWidth":2},"encoding":{"x":{"value":0},"x2":{"value":1206},"y":{"value":703}}},
{"data":{"name":"one"},"mark":{"type":"rule","color":"#2C323E","strokeWidth":2},"encoding":{"x":{"value":0},"x2":{"value":1206},"y":{"value":791}}},
{"data":{"name":"one"},"mark":{"type":"rule","color":"#2C323E","strokeWidth":2},"encoding":{"x":{"value":0},"x2":{"value":1206},"y":{"value":1744}}},
{"data":{"name":"one"},"mark":{"type":"rule","color":"#2C323E","strokeWidth":2},"encoding":{"x":{"value":0},"x2":{"value":1206},"y":{"value":2076}}},
{"data":{"name":"one"},"mark":{"type":"rule","color":"#2C323E","strokeWidth":3},"encoding":{"x":{"value":0},"x2":{"value":1206},"y":{"value":2184}}},
{"data":{"name":"one"},"mark":{"type":"rule","color":"#2C323E","strokeWidth":3},"encoding":{"x":{"value":0},"x2":{"value":1206},"y":{"value":2623}}},
{"data":{"name":"one"},"mark":{"type":"rule","color":"#333A47","strokeWidth":2},"encoding":{"x":{"value":818},"y":{"value":2009},"y2":{"value":2053}}},
{"data":{"name":"one"},"mark":{"type":"rule","color":"#333A47","strokeWidth":2},"encoding":{"x":{"value":1088},"y":{"value":2009},"y2":{"value":2053}}},
{"data":{"name":"one"},"mark":{"type":"rect","x":48,"x2":144,"y":422,"y2":431,"fill":"#FCD535"},"encoding":{}},

{"data":{"name":"one"},"mark":{"type":"point","shape":"M1 0L-0.95 0M-0.3 -0.72L-0.95 0L-0.3 0.72","filled":false,"color":"#EAECEF","opacity":1,"strokeWidth":4,"size":2025,"x":75,"y":251},"encoding":{}},
{"data":{"name":"one"},"mark":{"type":"text","text":"TUT/USDT","x":154,"y":228,"fontSize":49,"fontWeight":600,"color":"#EAECEF"},"encoding":{}},
{"data":{"name":"one"},"mark":{"type":"point","shape":"M-1 -0.65L1 -0.65L0 0.75Z","filled":true,"color":"#EAECEF","opacity":1,"size":784,"x":439,"y":228},"encoding":{}},
{"data":{"name":"one"},"mark":{"type":"text","text":"Tutorial","x":154,"y":283,"fontSize":32},"encoding":{}},
{"data":{"name":"one"},"mark":{"type":"point","shape":"M0 -1Q0.15 -0.15 1 0Q0.15 0.15 0 1Q-0.15 0.15 -1 0Q-0.15 -0.15 0 -1Z","filled":true,"color":"#7B82F5","opacity":1,"size":1936,"x":913,"y":255},"encoding":{}},
{"data":{"name":"one"},"mark":{"type":"point","shape":"M0 -1Q0.15 -0.15 1 0Q0.15 0.15 0 1Q-0.15 0.15 -1 0Q-0.15 -0.15 0 -1Z","filled":true,"color":"#6F86FF","opacity":1,"size":484,"x":934,"y":239},"encoding":{}},
{"data":{"name":"one"},"mark":{"type":"text","text":"AI","x":922,"y":266,"fontSize":21,"fontWeight":700,"color":"#6F86FF"},"encoding":{}},
{"data":{"name":"one"},"mark":{"type":"point","shape":"M0 -1L0.29 -0.36L0.95 -0.31L0.47 0.15L0.59 0.81L0 0.48L-0.59 0.81L-0.47 0.15L-0.95 -0.31L-0.29 -0.36Z","filled":false,"color":"#EAECEF","opacity":1,"strokeWidth":3.5,"size":2500,"x":1025,"y":255},"encoding":{}},
{"data":{"name":"one"},"mark":{"type":"point","shape":"M-0.8 0.55C-0.6 0.3 -0.65 0 -0.65 -0.3C-0.65 -0.75 -0.3 -1 0 -1C0.3 -1 0.65 -0.75 0.65 -0.3C0.65 0 0.6 0.3 0.8 0.55ZM-0.3 0.55C-0.3 1 0.3 1 0.3 0.55","filled":false,"color":"#EAECEF","opacity":1,"strokeWidth":3.5,"size":2500,"x":1131,"y":253},"encoding":{}},

{"data":{"name":"one"},"mark":{"type":"text","text":"Price","x":48,"y":376,"fontSize":38,"fontWeight":500,"color":"#EAECEF"},"encoding":{}},
{"data":{"name":"one"},"mark":{"type":"text","text":"Info","x":190,"y":376,"fontSize":38},"encoding":{}},
{"data":{"name":"one"},"mark":{"type":"text","text":"Data","x":308,"y":376,"fontSize":38},"encoding":{}},
{"data":{"name":"one"},"mark":{"type":"text","text":"Audit","x":442,"y":376,"fontSize":38},"encoding":{}},
{"data":{"name":"one"},"mark":{"type":"text","text":"Square","x":586,"y":376,"fontSize":38},"encoding":{}},
{"data":{"name":"one"},"mark":{"type":"text","text":"Trade-X","x":766,"y":376,"fontSize":38},"encoding":{}},

{"data":{"name":"one"},"mark":{"type":"text","text":"0,03486","x":46,"y":513,"fontSize":74,"fontWeight":700,"color":"#EAECEF"},"encoding":{}},
{"data":{"name":"one"},"mark":{"type":"text","text":"$0,03486","x":46,"y":585,"fontSize":32,"fontWeight":500,"color":"#EAECEF"},"encoding":{}},
{"data":{"name":"one"},"mark":{"type":"text","text":"-7,04%","x":212,"y":585,"fontSize":32,"fontWeight":500,"color":"#F6465D"},"encoding":{}},
{"data":{"name":"one"},"mark":{"type":"text","text":"Seed","x":46,"y":642,"color":"#F0B90B"},"encoding":{}},
{"data":{"name":"one"},"mark":{"type":"rule","color":"#333A47","strokeWidth":2},"encoding":{"x":{"value":134},"y":{"value":632},"y2":{"value":652}}},
{"data":{"name":"one"},"mark":{"type":"text","text":"Hot","x":148,"y":642,"color":"#F0B90B"},"encoding":{}},
{"data":{"name":"one"},"mark":{"type":"point","shape":"M-0.4 -1L0.4 0L-0.4 1","filled":false,"color":"#5E6673","opacity":1,"strokeWidth":2.5,"size":484,"x":228,"y":643},"encoding":{}},
{"data":{"name":"one"},"mark":{"type":"text","text":"24h High","x":682,"y":492},"encoding":{}},
{"data":{"name":"one"},"mark":{"type":"text","text":"24h Low","x":682,"y":540},"encoding":{}},
{"data":{"name":"one"},"mark":{"type":"text","text":"24h Vol(TUT)","x":682,"y":589},"encoding":{}},
{"data":{"name":"one"},"mark":{"type":"text","text":"24h Vol(USDT)","x":682,"y":637},"encoding":{}},
{"data":{"name":"one"},"mark":{"type":"text","text":"0,04291","x":1159,"y":492,"align":"right","fontWeight":500,"color":"#EAECEF"},"encoding":{}},
{"data":{"name":"one"},"mark":{"type":"text","text":"0,03388","x":1159,"y":540,"align":"right","fontWeight":500,"color":"#EAECEF"},"encoding":{}},
{"data":{"name":"one"},"mark":{"type":"text","text":"669,61M","x":1159,"y":589,"align":"right","fontWeight":500,"color":"#EAECEF"},"encoding":{}},
{"data":{"name":"one"},"mark":{"type":"text","text":"26,00M","x":1159,"y":637,"align":"right","fontWeight":500,"color":"#EAECEF"},"encoding":{}},

{"data":{"name":"one"},"mark":{"type":"text","text":"Time","x":46,"y":748,"fontSize":32},"encoding":{}},
{"data":{"name":"one"},"mark":{"type":"text","text":"15m","x":176,"y":748,"fontSize":32},"encoding":{}},
{"data":{"name":"one"},"mark":{"type":"text","text":"1h","x":292,"y":748,"fontSize":32},"encoding":{}},
{"data":{"name":"one"},"mark":{"type":"text","text":"4h","x":377,"y":748,"fontSize":32},"encoding":{}},
{"data":{"name":"one"},"mark":{"type":"text","text":"1d","x":466,"y":748,"fontSize":32},"encoding":{}},
{"data":{"name":"one"},"mark":{"type":"text","text":"30m","x":552,"y":748,"fontSize":32,"fontWeight":600,"color":"#EAECEF"},"encoding":{}},
{"data":{"name":"one"},"mark":{"type":"point","shape":"M-1 -0.65L1 -0.65L0 0.75Z","filled":true,"color":"#EAECEF","opacity":1,"size":400,"x":645,"y":746},"encoding":{}},
{"data":{"name":"one"},"mark":{"type":"point","shape":"M-0.9 0.95L-0.9 -1L0.95 -1L0.95 -0.1M-0.5 -0.55L0 0M0 -0.45L0 0L-0.45 0M0.15 0.15L0.95 0.15L0.95 1L0.15 1Z","filled":false,"color":"#EAECEF","opacity":1,"strokeWidth":3.2,"size":1764,"x":951,"y":747},"encoding":{}},
{"data":{"name":"one"},"mark":{"type":"point","shape":"M-1 -1L1 -1M-1 -0.1L-0.5 -0.1M-1 0.8L-0.5 0.8M0.35 -0.55L1 -0.2L1 0.5L0.35 0.95L-0.3 0.5L-0.3 -0.2ZM0.35 0.05L0.5 0.2L0.35 0.35L0.2 0.2Z","filled":false,"color":"#EAECEF","opacity":1,"strokeWidth":3.2,"size":1764,"x":1044,"y":747},"encoding":{}},
{"data":{"name":"one"},"mark":{"type":"point","shape":"M-1 -1H-0.15V-0.15H-1ZM0.15 -1H1V-0.15H0.15ZM-1 0.15H-0.15V1H-1ZM0.15 0.15H1V1H0.15Z","filled":false,"color":"#EAECEF","opacity":1,"strokeWidth":3.2,"size":1600,"x":1137,"y":747},"encoding":{}},

{"data":{"name":"one"},"mark":{"type":"text","text":"EMA(7): 0,03604","x":46,"y":820,"color":"#F0B90B"},"encoding":{}},
{"data":{"name":"one"},"mark":{"type":"text","text":"EMA(25): 0,03825","x":316,"y":820,"color":"#E83FA8"},"encoding":{}},
{"data":{"name":"one"},"mark":{"type":"text","text":"EMA(99): 0,04293","x":605,"y":820,"color":"#8A63BE"},"encoding":{}},

{"data":{"name":"one"},"mark":{"type":"text","text":"2026-08-28 05:00","x":390,"y":1723,"align":"center","fontSize":30.5},"encoding":{}},
{"data":{"name":"one"},"mark":{"type":"text","text":"2026-08-29 11:30","x":793,"y":1723,"align":"center","fontSize":32},"encoding":{}},
{"data":{"name":"one"},"mark":{"type":"text","text":"VOL(TUT): 5,35M","x":46,"y":1770},"encoding":{}},
{"data":{"name":"one"},"mark":{"type":"text","text":"VOL(USDT): 188K","x":325,"y":1770},"encoding":{}},
{"data":{"name":"one"},"mark":{"type":"text","text":"MA(5): 20,2M","x":610,"y":1770,"color":"#F0B90B"},"encoding":{}},
{"data":{"name":"one"},"mark":{"type":"text","text":"MA(10): 29,4M","x":832,"y":1770,"color":"#8A63BE"},"encoding":{}},
{"data":{"name":"one"},"mark":{"type":"text","text":"68,6M","x":1190,"y":1825,"align":"right"},"encoding":{}},
{"data":{"name":"one"},"mark":{"type":"text","text":"2,77M","x":1190,"y":1965,"align":"right"},"encoding":{}},

{"data":{"name":"one"},"mark":{"type":"text","text":"MA","x":46,"y":2031,"fontSize":32},"encoding":{}},
{"data":{"name":"one"},"mark":{"type":"text","text":"EMA","x":156,"y":2031,"fontSize":32,"fontWeight":600,"color":"#EAECEF"},"encoding":{}},
{"data":{"name":"one"},"mark":{"type":"text","text":"BOLL","x":288,"y":2031,"fontSize":32},"encoding":{}},
{"data":{"name":"one"},"mark":{"type":"text","text":"SAR","x":432,"y":2031,"fontSize":32},"encoding":{}},
{"data":{"name":"one"},"mark":{"type":"text","text":"AVL","x":556,"y":2031,"fontSize":32},"encoding":{}},
{"data":{"name":"one"},"mark":{"type":"text","text":"SUPER","x":677,"y":2031,"fontSize":32},"encoding":{}},
{"data":{"name":"one"},"mark":{"type":"text","text":"VOL","x":850,"y":2031,"fontSize":32,"fontWeight":600,"color":"#EAECEF"},"encoding":{}},
{"data":{"name":"one"},"mark":{"type":"text","text":"MACD","x":977,"y":2031,"fontSize":32},"encoding":{}},
{"data":{"name":"one"},"mark":{"type":"point","shape":"M-1 -1L-1 1L1 1M-0.65 0.45L-0.25 -0.25L0.1 0.2L0.8 -0.65M-0.85 -0.95L-0.45 -0.95L-0.65 -0.55Z","filled":false,"color":"#EAECEF","opacity":1,"strokeWidth":3.2,"size":1600,"x":1137,"y":2031},"encoding":{}},

{"data":{"name":"one"},"mark":{"type":"text","text":"Today","x":46,"y":2106},"encoding":{}},
{"data":{"name":"one"},"mark":{"type":"text","text":"7 Days","x":235,"y":2106},"encoding":{}},
{"data":{"name":"one"},"mark":{"type":"text","text":"30 Days","x":423,"y":2106},"encoding":{}},
{"data":{"name":"one"},"mark":{"type":"text","text":"90 Days","x":612,"y":2106},"encoding":{}},
{"data":{"name":"one"},"mark":{"type":"text","text":"180 Days","x":801,"y":2106,"fontSize":31},"encoding":{}},
{"data":{"name":"one"},"mark":{"type":"text","text":"1 Year","x":990,"y":2106},"encoding":{}},
{"data":{"name":"one"},"mark":{"type":"text","text":"-11,09%","x":46,"y":2154,"fontSize":32,"color":"#F6465D"},"encoding":{}},
{"data":{"name":"one"},"mark":{"type":"text","text":"-20,81%","x":235,"y":2154,"fontSize":31,"color":"#F6465D"},"encoding":{}},
{"data":{"name":"one"},"mark":{"type":"text","text":"141,75%","x":423,"y":2154,"fontSize":31,"color":"#2EBD85"},"encoding":{}},
{"data":{"name":"one"},"mark":{"type":"text","text":"227,94%","x":612,"y":2154,"color":"#2EBD85"},"encoding":{}},
{"data":{"name":"one"},"mark":{"type":"text","text":"253,19%","x":801,"y":2154,"color":"#2EBD85"},"encoding":{}},
{"data":{"name":"one"},"mark":{"type":"text","text":"-41,96%","x":990,"y":2154,"color":"#F6465D"},"encoding":{}},

{"data":{"name":"one"},"mark":{"type":"rect","x":46,"x2":278,"y":2207,"y2":2279,"fill":"#2A303C","cornerRadius":16},"encoding":{}},
{"data":{"name":"one"},"mark":{"type":"text","text":"Order Book","x":70,"y":2243,"fontSize":32.5,"fontWeight":500,"color":"#EAECEF"},"encoding":{}},
{"data":{"name":"one"},"mark":{"type":"text","text":"Depth","x":328,"y":2243,"fontSize":32},"encoding":{}},
{"data":{"name":"one"},"mark":{"type":"text","text":"Trades","x":499,"y":2243,"fontSize":32},"encoding":{}},
{"data":{"name":"one"},"mark":{"type":"text","text":"Network","x":679,"y":2243,"fontSize":32},"encoding":{}},

{"data":{"name":"one"},"mark":{"type":"text","text":"74,01%","x":46,"y":2351,"color":"#2EBD85"},"encoding":{}},
{"data":{"name":"one"},"mark":{"type":"text","text":"25,99%","x":1155,"y":2351,"align":"right","color":"#F6465D"},"encoding":{}},
{"data":{"name":"one"},"mark":{"type":"rect","x":188,"x2":799,"y":2345,"y2":2362,"fill":"#2EBD85","cornerRadius":5},"encoding":{}},
{"data":{"name":"one"},"mark":{"type":"rect","x":804,"x2":1018,"y":2345,"y2":2362,"fill":"#F6465D","cornerRadius":5},"encoding":{}},
{"data":{"name":"one"},"mark":{"type":"rect","x":0,"x2":1206,"y":2352,"y2":2620,"fill":"#1F2630"},"encoding":{}},

{"data":{"name":"one"},"mark":{"type":"point","shape":"M-1 0A1 1 0 1 1 1 0A1 1 0 1 1 -1 0ZM-0.48 0L-0.36 0M-0.06 0L0.06 0M0.36 0L0.48 0","filled":false,"color":"#EAECEF","opacity":1,"strokeWidth":3.5,"size":2704,"x":105,"y":2415},"encoding":{}},
{"data":{"name":"one"},"mark":{"type":"point","shape":"M-0.95 -0.95H-0.2V-0.1H-0.95ZM0.55 -1L0.95 -0.5L0.55 0L0.15 -0.5ZM-0.95 0.55A0.38 0.42 0 1 1 -0.2 0.55A0.38 0.42 0 1 1 -0.95 0.55ZM0.2 0.15H0.95V0.95H0.2Z","filled":false,"color":"#EAECEF","opacity":1,"strokeWidth":3.5,"size":2304,"x":225,"y":2415},"encoding":{}},
{"data":{"name":"one"},"mark":{"type":"point","shape":"M-0.6 1L0.8 -0.9M0.1 -0.9L0.85 -0.9L0.85 -0.1M-0.65 -0.7L-0.35 -0.35L-0.65 0L-0.95 -0.35ZM0.4 0.2L0.7 0.55L0.4 0.95L0.1 0.55Z","filled":false,"color":"#EAECEF","opacity":1,"strokeWidth":3.5,"size":2304,"x":345,"y":2415},"encoding":{}},
{"data":{"name":"one"},"mark":{"type":"text","text":"More","x":105,"y":2468,"align":"center","fontSize":28,"color":"#EAECEF"},"encoding":{}},
{"data":{"name":"one"},"mark":{"type":"text","text":"Hub","x":225,"y":2468,"align":"center","fontSize":28,"color":"#EAECEF"},"encoding":{}},
{"data":{"name":"one"},"mark":{"type":"text","text":"Margin","x":345,"y":2468,"align":"center","fontSize":28,"color":"#EAECEF"},"encoding":{}},
{"data":{"name":"one"},"mark":{"type":"rect","x":430,"x2":786,"y":2382,"y2":2489,"fill":"#2EBD85","cornerRadius":26},"encoding":{}},
{"data":{"name":"one"},"mark":{"type":"rect","x":810,"x2":1160,"y":2382,"y2":2489,"fill":"#F6465D","cornerRadius":26},"encoding":{}},
{"data":{"name":"one"},"mark":{"type":"text","text":"Buy","x":607,"y":2436,"align":"center","fontSize":38,"fontWeight":500,"color":"#FFFFFF"},"encoding":{}},
{"data":{"name":"one"},"mark":{"type":"text","text":"Sell","x":985,"y":2436,"align":"center","fontSize":38,"fontWeight":500,"color":"#FFFFFF"},"encoding":{}},

{"data":{"name":"one"},"mark":{"type":"point","shape":"M0 -0.17L0.17 0L0 0.17L-0.17 0ZM-0.8 -0.2L-0.6 0L-0.8 0.2L-1 0ZM0.8 -0.2L1 0L0.8 0.2L0.6 0ZM0 -1L0.5 -0.5L0.3 -0.3L0 -0.6L-0.3 -0.3L-0.5 -0.5ZM0 1L-0.5 0.5L-0.3 0.3L0 0.6L0.3 0.3L0.5 0.5Z","filled":true,"color":"#F0B90B","opacity":1,"size":5184,"x":84,"y":2706},"encoding":{}},
{"data":{"name":"one"},"mark":{"type":"text","text":"BINANCE","x":135,"y":2704,"fontSize":61,"fontWeight":700,"color":"#F0B90B"},"encoding":{}},
{"data":{"name":"one"},"mark":{"type":"text","text":"Download the Binance App.","x":48,"y":2793,"fontSize":34},"encoding":{}},
{"data":{"name":"one"},"mark":{"type":"text","text":"Trade anywhere, anytime.","x":48,"y":2839,"fontSize":33.5},"encoding":{}},
{"data":{"name":"one"},"mark":{"type":"rect","x":966,"x2":1158,"y":2670,"y2":2862,"fill":"#FFFFFF"},"encoding":{}},
{"data":{"name":"qr"},"mark":{"type":"rect","color":"#000000"},"encoding":{"x":{"field":"c","type":"quantitative","scale":{"domain":[0,29],"range":[985,1139],"nice":false,"zero":false},"axis":null},"x2":{"field":"d"},"y":{"field":"r","type":"ordinal","scale":{"domain":[0,1,2,3,4,5,6,7,8,9,10,11,12,13,14,15,16,17,18,19,20,21,22,23,24,25,26,27,28],"range":[2688,2843],"paddingInner":0,"paddingOuter":0},"axis":null}}},
{"data":{"name":"one"},"mark":{"type":"point","shape":"M0 -0.17L0.17 0L0 0.17L-0.17 0ZM-0.8 -0.2L-0.6 0L-0.8 0.2L-1 0ZM0.8 -0.2L1 0L0.8 0.2L0.6 0ZM0 -1L0.5 -0.5L0.3 -0.3L0 -0.6L-0.3 -0.3L-0.5 -0.5ZM0 1L-0.5 0.5L-0.3 0.3L0 0.6L0.3 0.3L0.5 0.5Z","filled":true,"color":"#EAECEF","opacity":1,"size":784,"x":1073,"y":2884},"encoding":{}},
{"data":{"name":"one"},"mark":{"type":"text","text":"@ Minaa_","x":1092,"y":2883,"fontSize":23,"color":"#EAECEF"},"encoding":{}}
],
"resolve":{"scale":{"x":"independent","y":"independent"}}}
